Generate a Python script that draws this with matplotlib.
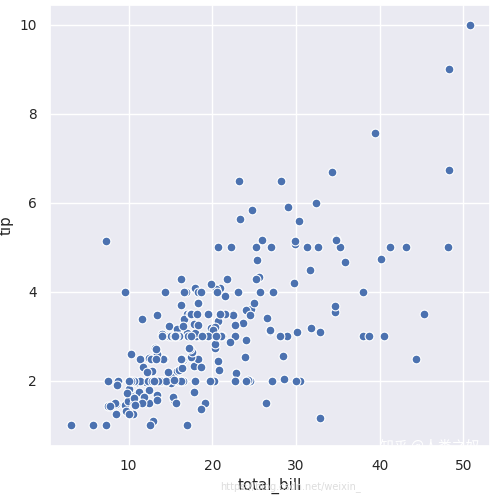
import matplotlib
matplotlib.use("Agg")
import matplotlib.pyplot as plt
import seaborn as sns

total_bill = [16.99,10.34,21.01,23.68,24.59,25.29,8.77,26.88,15.04,14.78,10.27,35.26,15.42,18.43,14.83,21.58,10.33,16.29,16.97,20.65,17.92,20.29,15.77,39.42,19.82,17.81,13.37,12.69,21.7,19.65,9.55,18.35,15.06,20.69,17.78,24.06,16.31,16.93,18.69,31.27,16.04,17.46,13.94,9.68,30.4,18.29,22.23,32.4,28.55,18.04,12.54,10.29,34.81,9.94,25.56,19.49,38.01,26.41,11.24,48.27,20.29,13.81,11.02,18.29,17.59,20.08,16.45,3.07,20.23,15.01,12.02,17.07,26.86,25.28,14.73,10.51,17.92,27.2,22.76,17.29,19.44,16.66,10.07,32.68,15.98,34.83,13.03,18.28,24.71,21.16,28.97,22.49,5.75,16.32,22.75,40.17,27.28,12.03,21.01,12.46,11.35,15.38,44.3,22.42,20.92,15.36,20.49,25.21,18.24,14.31,14.0,7.25,38.07,23.95,25.71,17.31,29.93,10.65,12.43,24.08,11.69,13.42,14.26,15.95,12.48,29.8,8.52,14.52,11.38,22.82,19.08,20.27,11.17,12.26,18.26,8.51,10.33,14.15,16.0,13.16,17.47,34.3,41.19,27.05,16.43,8.35,18.64,11.87,9.78,7.51,14.07,13.13,17.26,24.55,19.77,29.85,48.17,25.0,13.39,16.49,21.5,12.66,16.21,13.81,17.51,24.52,20.76,31.71,10.59,10.63,50.81,15.81,7.25,31.85,16.82,32.9,17.89,14.48,9.6,34.63,34.65,23.33,45.35,23.17,40.55,20.69,20.9,30.46,18.15,23.1,15.69,19.81,28.44,15.48,16.58,7.56,10.34,43.11,13.0,13.51,18.71,12.74,13.0,16.4,20.53,16.47,26.59,38.73,24.27,12.76,30.06,25.89,48.33,13.27,28.17,12.9,28.15,11.59,7.74,30.14,12.16,13.42,8.58,15.98,13.42,16.27,10.09,20.45,13.28,22.12,24.01,15.69,11.61,10.77,15.53,10.07,12.6,32.83,35.83,29.03,27.18,22.67,17.82,18.78]
tip = [1.01,1.66,3.5,3.31,3.61,4.71,2.0,3.12,1.96,3.23,1.71,5.0,1.57,3.0,3.02,3.92,1.67,3.71,3.5,3.35,4.08,2.75,2.23,7.58,3.18,2.34,2.0,2.0,4.3,3.0,1.45,2.5,3.0,2.45,3.27,3.6,2.0,3.07,2.31,5.0,2.24,2.54,3.06,1.32,5.6,3.0,5.0,6.0,2.05,3.0,2.5,2.6,5.2,1.56,4.34,3.51,3.0,1.5,1.76,6.73,3.21,2.0,1.98,3.76,2.64,3.15,2.47,1.0,2.01,2.09,1.97,3.0,3.14,5.0,2.2,1.25,3.08,4.0,3.0,2.71,3.0,3.4,1.83,5.0,2.03,5.17,2.0,4.0,5.85,3.0,3.0,3.5,1.0,4.3,3.25,4.73,4.0,1.5,3.0,1.5,2.5,3.0,2.5,3.48,4.08,1.64,4.06,4.29,3.76,4.0,3.0,1.0,4.0,2.55,4.0,3.5,5.07,1.5,1.8,2.92,2.31,1.68,2.5,2.0,2.52,4.2,1.48,2.0,2.0,2.18,1.5,2.83,1.5,2.0,3.25,1.25,2.0,2.0,2.0,2.75,3.5,6.7,5.0,5.0,2.3,1.5,1.36,1.63,1.73,2.0,2.5,2.0,2.74,2.0,2.0,5.14,5.0,3.75,2.61,2.0,3.5,2.5,2.0,2.0,3.0,3.48,2.24,4.5,1.61,2.0,10.0,3.16,5.15,3.18,4.0,3.11,2.0,2.0,4.0,3.55,3.68,5.65,3.5,6.5,3.0,5.0,3.5,2.0,3.5,4.0,1.5,4.19,2.56,2.02,4.0,1.44,2.0,5.0,2.0,2.0,4.0,2.01,2.0,2.5,4.0,3.23,3.41,3.0,2.03,2.23,2.0,5.16,9.0,2.5,6.5,1.1,3.0,1.5,1.44,3.09,2.2,3.48,1.92,3.0,1.58,2.5,2.0,3.0,2.72,2.88,2.0,3.0,3.39,1.47,3.0,1.25,1.0,1.17,4.67,5.92,2.0,2.0,1.75,3.0]

sns.set_theme(style="darkgrid", font_scale=0.9)
fig = plt.figure(figsize=(5, 4.95), dpi=100)
ax = fig.add_axes([0.1, 0.1, 0.88, 0.89])
sns.scatterplot(x=total_bill, y=tip, ax=ax, color="#4c72b0", s=40, edgecolor="white", linewidth=0.8)
ax.set_xlabel("total_bill")
ax.set_ylabel("tip")
ax.set_xlim(0.6, 53.2)
ax.set_ylim(0.55, 10.45)
ax.set_xticks([10, 20, 30, 40, 50])
ax.set_yticks([2, 4, 6, 8, 10])
fig.text(0.44, 0.012, "https://blog.csdn.net/weixin_", color="#dddddd", fontsize=7)
fig.text(0.76, 0.09, "知乎 @人类之奴", color="#ffffff", fontsize=10, family=["Noto Sans CJK SC", "DejaVu Sans"])
fig.savefig("out.png")
